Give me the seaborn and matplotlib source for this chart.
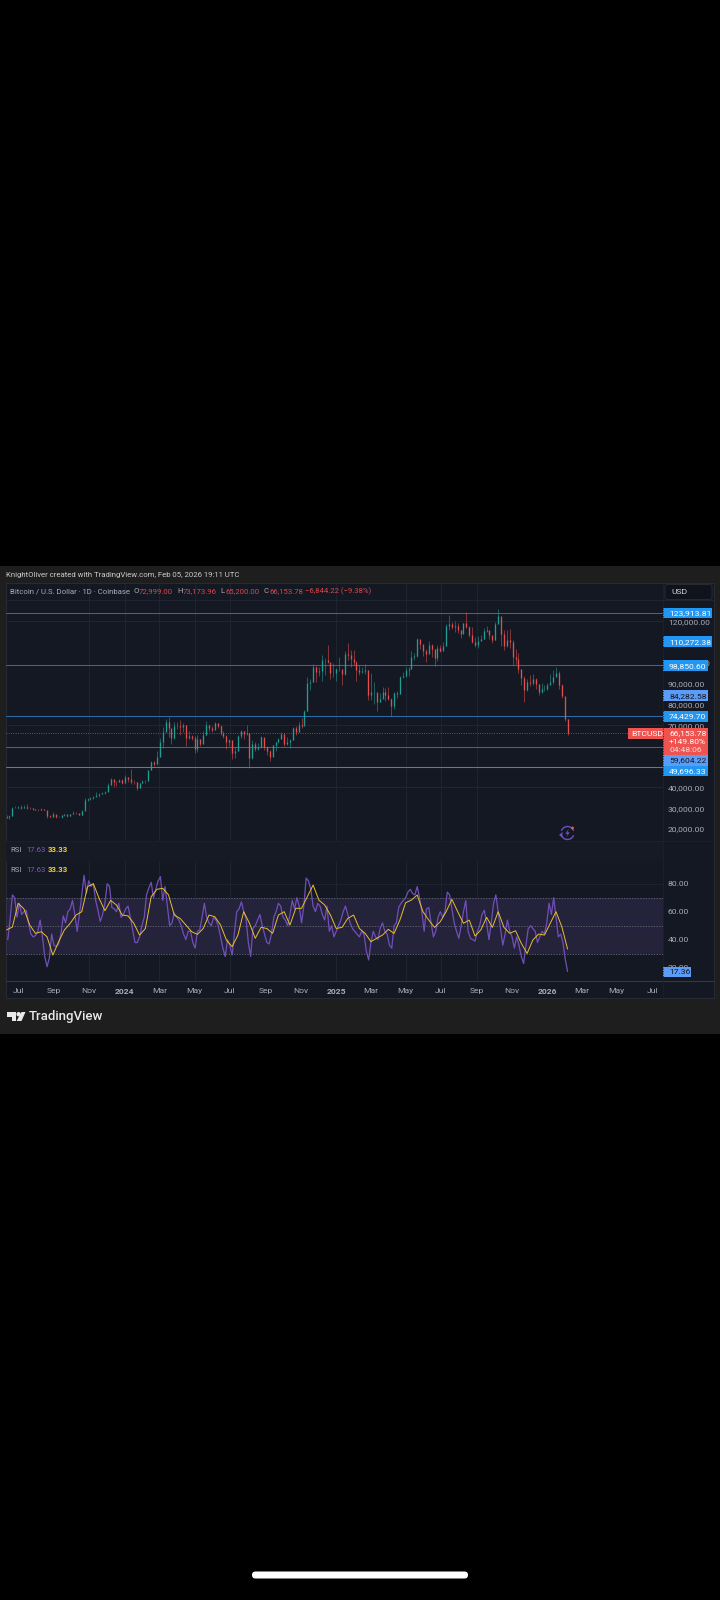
"""BTCUSD daily chart with RSI pane, TradingView dark look, drawn with seaborn/matplotlib."""
import numpy as np
import pandas as pd
import matplotlib
matplotlib.use("Agg")
import matplotlib.pyplot as plt
from matplotlib.patches import Rectangle, FancyBboxPatch, Polygon, Circle, Arc
import seaborn as sns

# candles every 5 days, thousands of USD
closes = [25.9, 26.3, 30.0, 30.3, 30.6, 30.2, 30.7, 30.2, 29.9, 29.4, 29.2, 29.1, 29.4, 29.2, 26.2, 26.0, 27.3, 25.9, 25.9, 26.5,
          27.2, 26.3, 27.0, 27.8, 27.6, 26.9, 28.7, 33.9, 34.5, 34.7, 35.6, 36.5, 36.6, 37.3, 37.8, 41.0, 44.2, 42.8, 42.6, 43.7,
          42.2, 44.9, 43.9, 42.8, 42.7, 39.5, 42.0, 43.1, 43.1, 48.3, 52.1, 51.3, 54.5, 62.0, 66.9, 71.4, 68.4, 63.8, 69.4, 69.7,
          68.9, 70.0, 63.8, 64.9, 63.7, 58.3, 63.2, 60.8, 65.2, 70.2, 68.5, 67.5, 71.0, 69.6, 66.2, 64.9, 61.8, 62.7, 56.7, 57.7,
          64.7, 67.1, 65.8, 66.2, 54.0, 60.9, 58.7, 59.4, 64.2, 59.3, 57.5, 54.9, 60.5, 61.8, 63.3, 65.8, 60.8, 62.1, 62.9, 68.4,
          66.6, 69.9, 69.4, 76.7, 90.4, 90.6, 98.0, 95.7, 96.0, 101.2, 101.4, 100.2, 94.9, 95.3, 96.9, 96.9, 94.5, 104.4, 103.6, 102.0,
          100.6, 96.6, 95.7, 96.1, 96.5, 84.5, 86.2, 86.2, 81.0, 82.7, 86.0, 84.3, 82.5, 79.2, 85.3, 84.9, 93.4, 93.7, 96.5, 97.0,
          102.8, 103.2, 111.7, 109.0, 105.6, 104.3, 108.6, 106.8, 102.2, 107.1, 105.7, 108.2, 117.6, 118.6, 117.4, 117.6, 115.8, 114.1, 119.3, 117.4,
          113.5, 110.1, 108.4, 110.7, 111.5, 115.3, 115.7, 113.3, 111.0, 118.5, 122.5, 114.0, 108.0, 111.0, 110.0, 103.0, 102.0, 97.0, 92.5, 87.0,
          91.0, 90.5, 92.0, 90.0, 86.0, 87.5, 87.5, 89.5, 91.0, 93.0, 95.0, 89.5, 84.0, 73.0, 66.15]
highs = [26.8, 26.8, 30.8, 31.3, 31.3, 31.5, 31.6, 31.8, 30.4, 29.9, 29.6, 29.4, 30.1, 29.6, 28.8, 26.8, 28.1, 26.1, 26.2, 26.8,
         27.4, 26.7, 27.2, 28.5, 28.0, 27.4, 29.0, 35.0, 34.8, 35.3, 36.0, 37.9, 37.5, 37.8, 38.2, 42.0, 44.7, 43.4, 43.3, 44.3,
         44.0, 45.8, 45.0, 48.9, 43.6, 42.5, 42.2, 43.8, 43.4, 48.6, 52.8, 52.9, 57.5, 64.0, 69.0, 72.9, 73.8, 68.1, 71.7, 71.4,
         72.7, 71.2, 70.0, 67.2, 65.3, 64.7, 65.5, 63.4, 67.0, 71.9, 70.0, 69.5, 71.7, 71.0, 69.9, 67.2, 65.2, 63.5, 62.8, 59.4,
         65.2, 67.5, 67.2, 69.9, 66.0, 62.7, 61.8, 61.4, 64.9, 64.0, 59.8, 57.9, 60.6, 61.9, 64.0, 66.5, 66.0, 64.4, 63.4, 68.9,
         69.5, 71.5, 73.6, 77.2, 93.4, 92.0, 99.6, 98.5, 98.0, 104.0, 102.5, 108.4, 99.5, 99.9, 97.7, 102.7, 95.8, 105.9, 109.6, 106.3,
         106.0, 101.0, 98.8, 98.0, 99.4, 96.5, 95.0, 90.9, 84.5, 85.3, 88.5, 88.0, 88.4, 83.0, 85.8, 86.4, 93.8, 95.5, 97.9, 97.8,
         105.8, 104.9, 111.9, 110.7, 108.8, 106.7, 110.4, 108.9, 106.5, 108.5, 108.8, 110.0, 118.9, 123.2, 119.7, 120.2, 119.3, 115.7, 119.4, 124.5,
         117.6, 117.4, 112.5, 112.9, 113.3, 116.8, 117.9, 115.0, 113.0, 119.5, 125.9, 116.0, 116.0, 116.0, 116.5, 111.0, 106.5, 105.0, 97.0, 93.5,
         92.0, 94.0, 94.5, 92.5, 90.0, 90.5, 89.5, 90.5, 94.5, 96.5, 98.0, 96.0, 90.0, 79.0, 73.17]
lows = [25.2, 24.9, 26.2, 29.9, 29.9, 29.7, 29.9, 29.7, 29.6, 29.0, 28.9, 28.7, 29.0, 28.9, 25.4, 25.8, 25.9, 25.4, 25.6, 25.2,
        26.3, 26.0, 26.2, 27.2, 27.1, 26.6, 26.9, 29.9, 33.4, 34.0, 34.5, 36.3, 35.6, 36.8, 37.0, 38.5, 41.2, 40.2, 40.6, 42.8,
        41.5, 42.2, 42.6, 41.5, 41.6, 38.6, 39.5, 41.9, 42.3, 43.2, 48.3, 50.5, 50.9, 54.5, 59.2, 67.0, 64.5, 60.8, 63.5, 68.0,
        65.2, 66.9, 59.8, 63.5, 62.8, 56.6, 57.0, 60.2, 60.8, 65.1, 67.0, 66.7, 67.5, 68.5, 65.1, 64.0, 58.6, 60.0, 53.6, 54.3,
        57.7, 64.0, 63.5, 65.3, 49.2, 53.5, 57.6, 57.8, 59.0, 57.9, 55.6, 52.6, 55.6, 57.5, 61.5, 63.2, 60.0, 60.3, 58.9, 62.9,
        65.3, 66.7, 68.8, 74.4, 76.7, 86.7, 90.9, 90.8, 93.6, 91.5, 94.2, 100.0, 92.2, 93.4, 91.3, 96.0, 89.3, 94.3, 101.3, 97.8,
        99.0, 91.2, 94.1, 95.2, 94.8, 82.3, 82.0, 80.0, 76.6, 81.2, 83.3, 81.6, 82.0, 74.6, 78.0, 83.2, 85.0, 92.9, 93.4, 93.5,
        97.0, 101.6, 103.0, 106.9, 103.1, 100.4, 105.3, 102.7, 98.3, 101.0, 105.3, 107.2, 108.3, 115.7, 116.5, 114.7, 114.5, 112.0, 114.3, 116.8,
        112.4, 109.5, 107.5, 107.3, 110.5, 111.4, 115.1, 111.5, 109.5, 111.0, 118.5, 108.0, 106.0, 107.5, 107.0, 99.0, 99.5, 95.0, 89.5, 81.0,
        86.5, 89.0, 89.5, 87.5, 84.5, 85.5, 86.5, 87.0, 90.0, 90.0, 93.5, 87.5, 83.0, 72.0, 65.2]

# RSI every 4 days, signal every 10 days
rsi_values = [40, 54, 72, 70, 56, 66, 58, 60, 61, 52, 44, 42, 43, 46, 54, 42, 28, 20.7, 27, 44, 36, 35, 37, 44, 57, 52, 60, 62, 68, 58,
              46, 58, 72, 86, 73, 82, 78, 80, 68, 61, 53, 58, 66, 80, 78, 63, 62, 60, 66, 56, 58, 62, 64, 56, 47, 38, 38, 42, 50, 56,
              72, 77, 81, 70, 76, 82, 85, 68, 78, 64, 50, 52, 59, 56, 54, 50, 44, 40, 46, 46, 38, 34, 46, 47, 56, 66, 56, 52, 50, 56,
              54, 50, 42, 34, 28, 40, 36, 29, 45, 60, 62, 67, 60, 55, 38, 28, 48, 50, 54, 58, 50, 44, 38, 37, 44, 56, 60, 66, 64, 56,
              54, 50, 58, 68, 62, 70, 64, 52, 64, 84, 82, 76, 64, 60, 66, 64, 58, 54, 64, 46, 50, 42, 46, 50, 54, 60, 64, 58, 52, 48,
              46, 44, 42, 46, 44, 32, 25.5, 38, 46, 42, 40, 48, 52, 46, 44, 36, 34, 50, 52, 63, 66, 68, 70, 74, 76, 73, 72, 78, 70, 60,
              46, 62, 63, 52, 42, 46, 56, 60, 56, 60, 74, 72, 62, 52, 46, 41, 50, 60, 68, 46, 41, 40, 39, 46, 50, 58, 61, 52, 40, 52,
              66, 72, 60, 48, 36, 44, 54, 46, 42, 34, 42, 36, 28, 23, 36, 48, 50, 48, 46, 38, 42, 46, 44, 52, 66, 58, 70, 56, 42, 44,
              38, 26, 17.36]
rsi_signal = [47, 49, 66, 62, 50.5, 44.5, 45.7, 42, 29, 38.6, 47, 51.7, 57.6, 60, 77.9, 80, 69.5, 60.7, 68, 64.8, 57.6, 57, 51.7, 43.3, 48,
              70.7, 76, 76.7, 72, 57.6, 55.2, 50.5, 45.7, 43.8, 48, 57.6, 56.4, 50.5, 39.8, 35, 43.3, 60, 51.7, 41, 48.8, 48, 44.5, 57.6, 60,
              50.5, 62.4, 62.4, 70.7, 79, 68.3, 64.8, 57.6, 48, 48.8, 55.2, 57.6, 48, 44.5, 38.6, 41, 43.3, 47.4, 44.5, 54, 66.4, 68.3, 71.9,
              60, 54, 48.8, 52.9, 60, 68.8, 60, 51.7, 54, 42.6, 47, 56, 48.8, 60, 48.8, 44.5, 46.4, 37.4, 30.2, 39.8, 44, 43.3, 51.7, 60, 49.3, 33.33]

# drawn levels and their axis tags
level_values = [123.91381, 98.8506, 74.4297, 59.60422, 49.69633]
level_colors = ["#2b6ca6", "#2b6ca6", "#2b6ca6", "#2b6ca6", "#3a84c8"]
last_price = 66.15378
price_ticks = [20, 30, 40, 70, 80, 90, 100, 120]
price_grid = [40, 70, 120]
rsi_ticks = [20, 40, 60, 80]
rsi_levels = [30, 50, 70]

month_ticks = ["2023-07-01", "2023-09-01", "2023-11-01", "2024-01-01", "2024-03-01", "2024-05-01", "2024-07-01", "2024-09-01",
               "2024-11-01", "2025-01-01", "2025-03-01", "2025-05-01", "2025-07-01", "2025-09-01", "2025-11-01", "2026-01-01",
               "2026-03-01", "2026-05-01", "2026-07-01"]
month_labels = ["Jul", "Sep", "Nov", "2024", "Mar", "May", "Jul", "Sep", "Nov", "2025", "Mar", "May", "Jul", "Sep", "Nov", "2026",
                "Mar", "May", "Jul"]
grid_dates = ["2023-11-01", "2024-01-01", "2024-03-01", "2024-05-01", "2024-07-01", "2025-01-01", "2025-05-01", "2025-07-01", "2025-09-01"]

UP, DOWN = "#22a699", "#ef5350"
BG, GRID, PANEL = "#141823", "#222632", "#1e1e1e"
TICK = "#a9acb6"
PURPLE, YELLOW = "#7050b8", "#e8bf2c"
W, H = 720, 1600

sns.set_theme(style="dark", rc={"axes.edgecolor": GRID, "axes.linewidth": 0})
plt.rcParams["font.family"] = ["Roboto", "DejaVu Sans"]


def pane(fig, x0, y0, x1, y1, z):
    """axes placed by pixel box, y0 is the top"""
    return fig.add_axes([x0 / W, 1 - y1 / H, (x1 - x0) / W, (y1 - y0) / H], zorder=z)


def tag(ax, x0, y0, x1, y1, color, label, text_color="white", size=6.1):
    ax.add_patch(Rectangle((x0, y0), x1 - x0, y1 - y0, fc=color, ec="none"))
    ax.text(x0 + 6, (y0 + y1) / 2 + 0.3, label, color=text_color, fontsize=size, va="center", ha="left")


fig = plt.figure(figsize=(W / 100, H / 100), dpi=100, facecolor="black")

back = pane(fig, 0, 0, W, H, 0)
back.set_xlim(0, W); back.set_ylim(H, 0); back.axis("off")
back.add_patch(Rectangle((0, 566), W, 468, fc=PANEL, ec="none"))
back.add_patch(Rectangle((5.5, 583), 708.5, 415, fc=BG, ec="#2a2e39", lw=0.6))
back.add_patch(Rectangle((6, 841), 657, 20, fc="#161a25", ec="none"))

# price pane, top of the axes is y=584, bottom y=841
candle_dates = pd.date_range(end="2026-02-05", periods=len(closes), freq="5D")
opens = [closes[0] - 0.6] + closes[:-1]
opens[-1] = 72.999
colors = [UP if c >= o else DOWN for o, c in zip(opens, closes)]

xlim = (pd.Timestamp("2023-06-10"), pd.Timestamp("2026-07-20"))
price = pane(fig, 6, 584, 663, 841, 5)
price.patch.set_alpha(0)
for d in grid_dates:
    price.axvline(pd.Timestamp(d), color=GRID, lw=0.6, zorder=1)
for p in price_grid:
    price.axhline(p, color=GRID, lw=0.7, zorder=1)
for lv, col in zip(level_values, level_colors):
    price.axhline(lv, color=col, lw=0.75, zorder=2)
price.axhline(last_price, color=DOWN, lw=0.6, ls=(0, (1, 1.8)), alpha=0.85, zorder=2)
price.vlines(candle_dates, lows, highs, colors=colors, lw=0.45, alpha=0.8, zorder=3)
price.vlines(candle_dates, opens, closes, colors=colors, lw=0.95, alpha=0.9, zorder=4)
price.set_xlim(*xlim)
price.set_ylim(14.2, 138.0)
price.set_xticks([])
price.yaxis.tick_right()
price.set_yticks(price_ticks)
price.set_yticklabels([f"{t * 1000:,.2f}" for t in price_ticks], color=TICK, fontsize=6.1)
price.tick_params(axis="y", length=0, pad=3.6)

# RSI pane
rsi_dates = pd.date_range(end="2026-02-05", periods=len(rsi_values), freq="4D")
signal_dates = pd.date_range(end="2026-02-05", periods=len(rsi_signal), freq="10D")
rsi = pane(fig, 6, 861, 663, 981, 5)
rsi.patch.set_alpha(0)
rsi.axhspan(30, 70, color="#7e57c2", alpha=0.16, lw=0, zorder=0)
for d in grid_dates:
    rsi.axvline(pd.Timestamp(d), color=GRID, lw=0.6, zorder=1)
for t in rsi_ticks[1:]:
    rsi.axhline(t, color=GRID, lw=0.6, zorder=1)
for lv in rsi_levels:
    rsi.axhline(lv, color="#5f626e", lw=0.65, ls=(0, (1.5, 1.5)), zorder=2)
sns.lineplot(x=rsi_dates, y=rsi_values, ax=rsi, color=PURPLE, lw=0.9, estimator=None, zorder=3)
sns.lineplot(x=signal_dates, y=rsi_signal, ax=rsi, color=YELLOW, lw=0.7, estimator=None, zorder=4)
rsi.set_xlim(*xlim)
rsi.set_ylim(10.5, 96.2)
rsi.set(xlabel=None, ylabel=None)
rsi.set_xticks([pd.Timestamp(m) for m in month_ticks])
rsi.set_xticklabels(month_labels, color=TICK, fontsize=6.1)
for lab in rsi.get_xticklabels():
    if lab.get_text().startswith("20"):
        lab.set_fontweight("bold")
rsi.tick_params(axis="x", length=0, pad=5)
rsi.yaxis.tick_right()
rsi.set_yticks(rsi_ticks)
rsi.set_yticklabels([f"{t:.2f}" for t in rsi_ticks], color=TICK, fontsize=6.1)
rsi.tick_params(axis="y", length=0, pad=3.6)

# frame lines, tags and header texts go on top
front = pane(fig, 0, 0, W, H, 10)
front.set_xlim(0, W); front.set_ylim(H, 0); front.axis("off")
front.patch.set_alpha(0)
front.plot([6, 714], [600, 600], color="#232733", lw=0.6)
front.plot([6, 714], [841, 841], color="#1c202b", lw=0.6)
front.plot([6, 714], [981, 981], color="#343844", lw=0.8)
front.plot([663, 663], [583, 998], color="#262a35", lw=0.6, ls=(0, (1.5, 1.5)))

front.text(6, 575, "KnightOliver created with TradingView.com, Feb 05, 2026 19:11 UTC", color="#c9cad0", fontsize=5.55, va="center")
front.text(10.5, 591, "Bitcoin / U.S. Dollar · 1D · Coinbase", color="#a9acb6", fontsize=5.55, va="center")
for x, lab, val in [(133, "O", "72,999.00"), (177, "H", "73,173.96"), (220, "L", "65,200.00"), (263, "C", "66,153.78")]:
    front.text(x, 591, lab, color="#a9acb6", fontsize=5.55, va="center")
    front.text(x + 6, 591, val, color="#d9474a", fontsize=5.55, va="center")
front.text(305, 591, "−6,844.22 (−9.38%)", color="#d9474a", fontsize=5.55, va="center")

for y in (850, 870):
    front.text(10.5, y, "RSI", color="#a9acb6", fontsize=5.55, va="center")
    front.text(26, y, "17.63", color="#7e57c2", fontsize=5.55, va="center")
    front.text(48, y, "33.33", color="#f5d020", fontsize=5.55, va="center", fontweight="bold")

front.add_patch(FancyBboxPatch((665, 584.5), 47, 15, boxstyle="round,pad=0,rounding_size=2.5", fc="#10131c", ec="#2a2e39", lw=0.6))
front.text(671, 592, "USD", color="#d1d4dc", fontsize=6.1, va="center")

BLUE, LIGHT = "#2196f3", "#5b9cf6"
NAVY = "#131722"
tag(front, 663, 608, 712, 618, BLUE, "123,913.81")
tag(front, 663, 636, 712, 647, BLUE, "110,272.38")
tag(front, 663, 660, 708, 671, BLUE, "98,850.60")
tag(front, 663, 690, 708, 701, LIGHT, "84,282.58", NAVY)
tag(front, 663, 711, 708, 721.5, BLUE, "74,429.70")
front.add_patch(Rectangle((663, 728), 45, 27, fc=DOWN, ec="none"))
front.text(669, 733.4, "66,153.78", color="white", fontsize=6.1, va="center")
front.text(669, 741.5, "+149.80%", color="white", fontsize=6.1, va="center")
front.text(669, 749.5, "04:48:06", color="#fbd5d5", fontsize=6.1, va="center")
tag(front, 628, 728, 663, 738.6, DOWN, "BTCUSD", size=6.1)
front.texts[-1].set_x(631)
tag(front, 663, 755, 708, 765.6, LIGHT, "59,604.22", NAVY)
tag(front, 663, 765.6, 708, 776, BLUE, "49,696.33")
tag(front, 663, 967, 691, 977, LIGHT, "17.36", NAVY)

# power-up icon under the last candles
front.add_patch(Arc((567.5, 833), 13, 13, theta1=200, theta2=340, color="#6a4fc0", lw=1.0))
front.add_patch(Arc((567.5, 833), 13, 13, theta1=20, theta2=160, color="#6a4fc0", lw=1.0))
front.add_patch(Polygon([[568.5, 829], [565.5, 834], [567.5, 834], [566.5, 837], [569.8, 832.3], [567.8, 832.3]], fc="#6a4fc0", ec="none"))
front.add_patch(Polygon([[559, 835], [562.5, 832], [562.5, 838]], fc="#6a4fc0", ec="none"))
front.add_patch(Circle((572.5, 828), 1.4, fc=DOWN, ec="none"))

# TradingView mark and name
front.add_patch(Polygon([[7, 1012], [16, 1012], [16, 1021], [11.5, 1021], [11.5, 1016.5], [7, 1016.5]], fc="#e8e8e8", ec="none"))
front.add_patch(Circle((18.6, 1014.2), 2.2, fc="#e8e8e8", ec="none"))
front.add_patch(Polygon([[21.5, 1012], [25.5, 1012], [21.5, 1021], [16.6, 1021]], fc="#e8e8e8", ec="none"))
front.text(29, 1016.5, "TradingView", color="#e8e8e8", fontsize=9.5, va="center", fontweight="medium")

# phone home bar
front.add_patch(FancyBboxPatch((252, 1571.5), 216, 7, boxstyle="round,pad=0,rounding_size=3.5", fc="white", ec="none"))

fig.savefig("out.png", dpi=100, facecolor="black")
